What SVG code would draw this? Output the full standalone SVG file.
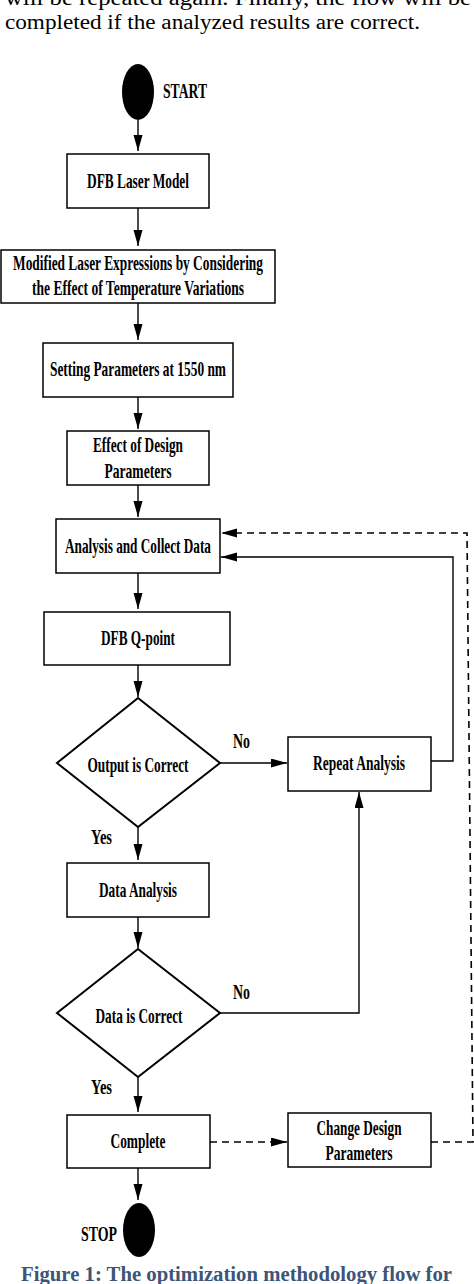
<svg xmlns="http://www.w3.org/2000/svg" width="474" height="1284" viewBox="0 0 474 1284">
<style>
.bx{fill:#fff;stroke:#000;stroke-width:1.5}
.dm{fill:#fff;stroke:#000;stroke-width:2}
.t{font-family:"Liberation Serif","Times New Roman",serif;font-weight:bold;font-size:21px;fill:#000;text-anchor:middle}
.tl{font-family:"Liberation Serif","Times New Roman",serif;font-weight:bold;font-size:21px;fill:#000}
.body{font-family:"Liberation Serif","Times New Roman",serif;font-size:20px;fill:#000}
.cap{font-family:"Liberation Serif","Times New Roman",serif;font-weight:bold;font-size:20px;fill:#3d5577}
.ln{fill:none;stroke:#000;stroke-width:1.4}
.ds{fill:none;stroke:#000;stroke-width:1.6;stroke-dasharray:7,5}
</style>
<defs>
<marker id="ah" markerUnits="userSpaceOnUse" markerWidth="17" markerHeight="10" refX="16" refY="4.5" orient="auto">
<path d="M0,0 L16,4.5 L0,9 z" fill="#000"/>
</marker>
</defs>
<rect width="474" height="1284" fill="#fff"/>
<text class="body" x="5" y="5" textLength="466" lengthAdjust="spacingAndGlyphs">will be repeated again. Finally, the flow will be</text>
<text class="body" x="5" y="29" textLength="415" lengthAdjust="spacingAndGlyphs">completed if the analyzed results are correct.</text>

<g id="connectors">
<line class="ln" x1="138" y1="120" x2="138" y2="151" marker-end="url(#ah)"/>
<line class="ln" x1="138" y1="208" x2="138" y2="246" marker-end="url(#ah)"/>
<line class="ln" x1="138" y1="303" x2="138" y2="340" marker-end="url(#ah)"/>
<line class="ln" x1="138" y1="397" x2="138" y2="429" marker-end="url(#ah)"/>
<line class="ln" x1="138" y1="485" x2="138" y2="517" marker-end="url(#ah)"/>
<line class="ln" x1="138" y1="573" x2="138" y2="609" marker-end="url(#ah)"/>
<line class="ln" x1="138" y1="665" x2="138" y2="697" marker-end="url(#ah)"/>
<line class="ln" x1="220" y1="763" x2="287" y2="763" marker-end="url(#ah)"/>
<path class="ln" d="M431,761 H453 V557 H221" marker-end="url(#ah)"/>
<line class="ln" x1="138" y1="827" x2="138" y2="860" marker-end="url(#ah)"/>
<line class="ln" x1="138" y1="917" x2="138" y2="948" marker-end="url(#ah)"/>
<path class="ln" d="M220,1013 H359 V792" marker-end="url(#ah)"/>
<line class="ln" x1="138" y1="1077" x2="138" y2="1112" marker-end="url(#ah)"/>
<line class="ds" x1="210" y1="1142" x2="287" y2="1142" marker-end="url(#ah)"/>
<path class="ds" d="M431,1142 H473 L467,533 H221" marker-end="url(#ah)"/>
<line class="ln" x1="138" y1="1168" x2="138" y2="1200" marker-end="url(#ah)"/>
</g>

<g id="start">
<ellipse cx="138" cy="92" rx="16" ry="28" fill="#000"/>
<text class="tl" x="163" y="98" textLength="44" lengthAdjust="spacingAndGlyphs">START</text>
</g>
<g id="dfb-laser-model">
<rect class="bx" x="67" y="154" width="142" height="54"/>
<text class="t" x="138" y="188" textLength="102" lengthAdjust="spacingAndGlyphs">DFB Laser Model</text>
</g>
<g id="modified-laser">
<rect class="bx" x="1" y="250" width="274" height="53"/>
<text class="t" x="138" y="270" textLength="250" lengthAdjust="spacingAndGlyphs">Modified Laser Expressions by Considering</text>
<text class="t" x="138" y="295" textLength="212" lengthAdjust="spacingAndGlyphs">the Effect of Temperature Variations</text>
</g>
<g id="setting-parameters">
<rect class="bx" x="43" y="343" width="190" height="54"/>
<text class="t" x="138" y="376" textLength="176" lengthAdjust="spacingAndGlyphs">Setting Parameters at 1550 nm</text>
</g>
<g id="effect-design">
<rect class="bx" x="67" y="431" width="142" height="54"/>
<text class="t" x="138" y="452" textLength="90" lengthAdjust="spacingAndGlyphs">Effect of Design</text>
<text class="t" x="138" y="478" textLength="67" lengthAdjust="spacingAndGlyphs">Parameters</text>
</g>
<g id="analysis-collect">
<rect class="bx" x="56" y="519" width="164" height="54"/>
<text class="t" x="138" y="553" textLength="146" lengthAdjust="spacingAndGlyphs">Analysis and Collect Data</text>
</g>
<g id="dfb-q-point">
<rect class="bx" x="44" y="612" width="186" height="53"/>
<text class="t" x="138" y="645" textLength="74" lengthAdjust="spacingAndGlyphs">DFB Q-point</text>
</g>
<g id="output-correct">
<polygon class="dm" points="138,698 220,763 138,827 57,763"/>
<text class="t" x="138" y="772" textLength="101" lengthAdjust="spacingAndGlyphs">Output is Correct</text>
<text class="tl" x="233" y="748" textLength="17" lengthAdjust="spacingAndGlyphs">No</text>
<text class="tl" x="91" y="844" textLength="21" lengthAdjust="spacingAndGlyphs">Yes</text>
</g>
<g id="repeat-analysis">
<rect class="bx" x="288" y="737" width="143" height="54"/>
<text class="t" x="359" y="770" textLength="92" lengthAdjust="spacingAndGlyphs">Repeat Analysis</text>
</g>
<g id="data-analysis">
<rect class="bx" x="67" y="863" width="142" height="54"/>
<text class="t" x="138" y="897" textLength="78" lengthAdjust="spacingAndGlyphs">Data Analysis</text>
</g>
<g id="data-correct">
<polygon class="dm" points="138,949 220,1013 138,1077 57,1013"/>
<text class="t" x="139" y="1023" textLength="87" lengthAdjust="spacingAndGlyphs">Data is Correct</text>
<text class="tl" x="233" y="999" textLength="17" lengthAdjust="spacingAndGlyphs">No</text>
<text class="tl" x="91" y="1094" textLength="21" lengthAdjust="spacingAndGlyphs">Yes</text>
</g>
<g id="complete">
<rect class="bx" x="67" y="1115" width="143" height="53"/>
<text class="t" x="138" y="1148" textLength="55" lengthAdjust="spacingAndGlyphs">Complete</text>
</g>
<g id="change-design">
<rect class="bx" x="288" y="1113" width="143" height="54"/>
<text class="t" x="359" y="1135" textLength="85" lengthAdjust="spacingAndGlyphs">Change Design</text>
<text class="t" x="359" y="1160" textLength="67" lengthAdjust="spacingAndGlyphs">Parameters</text>
</g>
<g id="stop">
<ellipse cx="139" cy="1230" rx="16" ry="27" fill="#000"/>
<text class="tl" x="81" y="1241" textLength="36" lengthAdjust="spacingAndGlyphs">STOP</text>
</g>
<text class="cap" x="21" y="1281" textLength="431" lengthAdjust="spacingAndGlyphs">Figure 1: The optimization  methodology  flow for</text>
</svg>
